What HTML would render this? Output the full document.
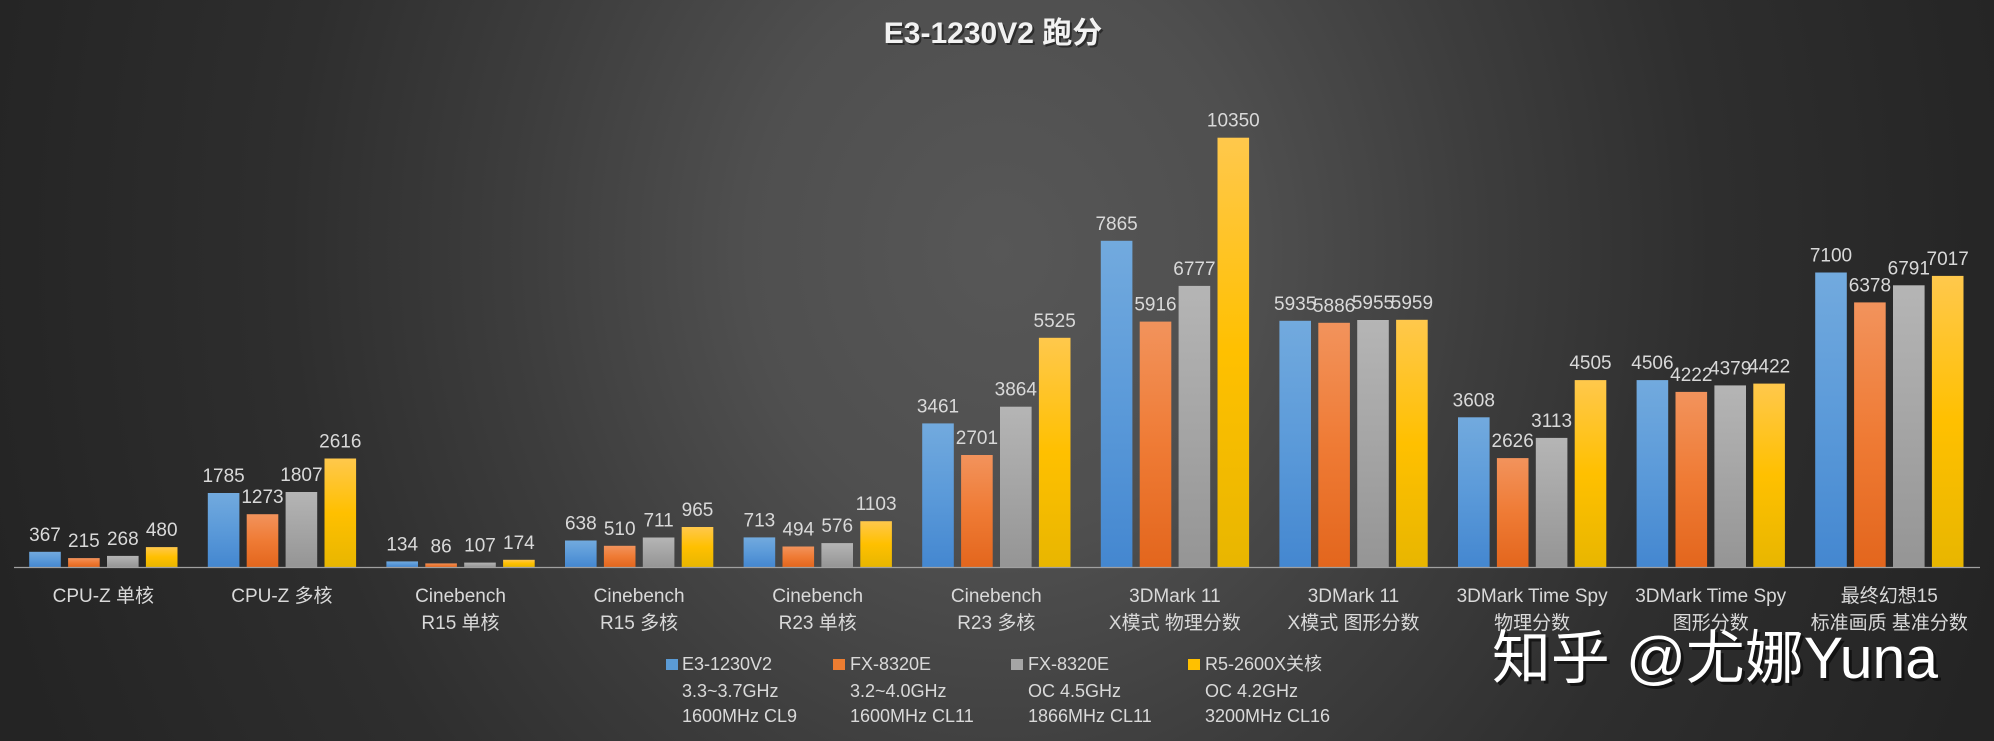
<!DOCTYPE html>
<html><head><meta charset="utf-8">
<style>
html,body{margin:0;padding:0;width:1994px;height:741px;overflow:hidden;}
body{background:radial-gradient(ellipse 1050px 1200px at 1000px 250px,#575757 0%,#4f4f4f 24%,#3d3d3d 46%,#2e2e2e 68%,#272727 90%,#242424 100%);}
svg{display:block;}
.v{font-family:"Liberation Sans","Noto Sans CJK SC",sans-serif;font-size:19px;fill:#d9d9d9;text-anchor:middle;}
.c{font-family:"Liberation Sans","Noto Sans CJK SC",sans-serif;font-size:19px;fill:#d9d9d9;text-anchor:middle;}
.l{font-family:"Liberation Sans","Noto Sans CJK SC",sans-serif;font-size:18px;fill:#d9d9d9;}
</style></head><body>
<svg width="1994" height="741" viewBox="0 0 1994 741" xmlns="http://www.w3.org/2000/svg">
<defs>
<linearGradient id="gb" x1="0" y1="0" x2="0" y2="1"><stop offset="0" stop-color="#72aade"/><stop offset="0.5" stop-color="#5b9ad9"/><stop offset="1" stop-color="#4487d0"/></linearGradient>
<linearGradient id="go" x1="0" y1="0" x2="0" y2="1"><stop offset="0" stop-color="#f2935c"/><stop offset="0.5" stop-color="#ef7b35"/><stop offset="1" stop-color="#e3661d"/></linearGradient>
<linearGradient id="gg" x1="0" y1="0" x2="0" y2="1"><stop offset="0" stop-color="#b5b5b5"/><stop offset="0.5" stop-color="#a5a5a5"/><stop offset="1" stop-color="#959595"/></linearGradient>
<linearGradient id="gy" x1="0" y1="0" x2="0" y2="1"><stop offset="0" stop-color="#ffc84c"/><stop offset="0.5" stop-color="#ffc000"/><stop offset="1" stop-color="#e8b600"/></linearGradient>
</defs>

<!-- Title -->
<text x="995" y="45" text-anchor="middle" font-family="Liberation Sans, Noto Sans CJK SC, sans-serif" font-weight="bold" font-size="30" fill="#000" fill-opacity="0.45">E3-1230V2 跑分</text>
<text x="993" y="43" text-anchor="middle" font-family="Liberation Sans, Noto Sans CJK SC, sans-serif" font-weight="bold" font-size="30" fill="#f2f2f2">E3-1230V2 跑分</text>

<!-- Bars -->
<g>
<!-- g0 -->
<rect x="29.2" y="551.8" width="31.6" height="15.2" fill="url(#gb)"/>
<rect x="68.1" y="558.1" width="31.6" height="8.9" fill="url(#go)"/>
<rect x="107.0" y="555.9" width="31.6" height="11.1" fill="url(#gg)"/>
<rect x="145.9" y="547.1" width="31.6" height="19.9" fill="url(#gy)"/>
<!-- g1 -->
<rect x="207.8" y="493.0" width="31.6" height="74.0" fill="url(#gb)"/>
<rect x="246.7" y="514.2" width="31.6" height="52.8" fill="url(#go)"/>
<rect x="285.6" y="492.0" width="31.6" height="75.0" fill="url(#gg)"/>
<rect x="324.5" y="458.5" width="31.6" height="108.5" fill="url(#gy)"/>
<!-- g2 -->
<rect x="386.4" y="561.4" width="31.6" height="5.6" fill="url(#gb)"/>
<rect x="425.3" y="563.4" width="31.6" height="3.6" fill="url(#go)"/>
<rect x="464.2" y="562.6" width="31.6" height="4.4" fill="url(#gg)"/>
<rect x="503.1" y="559.8" width="31.6" height="7.2" fill="url(#gy)"/>
<!-- g3 -->
<rect x="565.0" y="540.5" width="31.6" height="26.5" fill="url(#gb)"/>
<rect x="603.9" y="545.8" width="31.6" height="21.2" fill="url(#go)"/>
<rect x="642.8" y="537.5" width="31.6" height="29.5" fill="url(#gg)"/>
<rect x="681.7" y="527.0" width="31.6" height="40.0" fill="url(#gy)"/>
<!-- g4 -->
<rect x="743.6" y="537.4" width="31.6" height="29.6" fill="url(#gb)"/>
<rect x="782.5" y="546.5" width="31.6" height="20.5" fill="url(#go)"/>
<rect x="821.4" y="543.1" width="31.6" height="23.9" fill="url(#gg)"/>
<rect x="860.3" y="521.2" width="31.6" height="45.8" fill="url(#gy)"/>
<!-- g5 -->
<rect x="922.2" y="423.4" width="31.6" height="143.6" fill="url(#gb)"/>
<rect x="961.1" y="455.0" width="31.6" height="112.0" fill="url(#go)"/>
<rect x="1000.0" y="406.7" width="31.6" height="160.3" fill="url(#gg)"/>
<rect x="1038.9" y="337.8" width="31.6" height="229.2" fill="url(#gy)"/>
<!-- g6 -->
<rect x="1100.8" y="240.8" width="31.6" height="326.2" fill="url(#gb)"/>
<rect x="1139.7" y="321.6" width="31.6" height="245.4" fill="url(#go)"/>
<rect x="1178.6" y="285.9" width="31.6" height="281.1" fill="url(#gg)"/>
<rect x="1217.5" y="137.7" width="31.6" height="429.3" fill="url(#gy)"/>
<!-- g7 -->
<rect x="1279.4" y="320.8" width="31.6" height="246.2" fill="url(#gb)"/>
<rect x="1318.3" y="322.8" width="31.6" height="244.2" fill="url(#go)"/>
<rect x="1357.2" y="320.0" width="31.6" height="247.0" fill="url(#gg)"/>
<rect x="1396.1" y="319.8" width="31.6" height="247.2" fill="url(#gy)"/>
<!-- g8 -->
<rect x="1458.0" y="417.3" width="31.6" height="149.7" fill="url(#gb)"/>
<rect x="1496.9" y="458.1" width="31.6" height="108.9" fill="url(#go)"/>
<rect x="1535.8" y="437.9" width="31.6" height="129.1" fill="url(#gg)"/>
<rect x="1574.7" y="380.1" width="31.6" height="186.9" fill="url(#gy)"/>
<!-- g9 -->
<rect x="1636.6" y="380.1" width="31.6" height="186.9" fill="url(#gb)"/>
<rect x="1675.5" y="391.9" width="31.6" height="175.1" fill="url(#go)"/>
<rect x="1714.4" y="385.4" width="31.6" height="181.6" fill="url(#gg)"/>
<rect x="1753.3" y="383.6" width="31.6" height="183.4" fill="url(#gy)"/>
<!-- g10 -->
<rect x="1815.2" y="272.5" width="31.6" height="294.5" fill="url(#gb)"/>
<rect x="1854.1" y="302.4" width="31.6" height="264.6" fill="url(#go)"/>
<rect x="1893.0" y="285.3" width="31.6" height="281.7" fill="url(#gg)"/>
<rect x="1931.9" y="275.9" width="31.6" height="291.1" fill="url(#gy)"/>
</g>

<!-- Axis -->
<line x1="14" y1="567.5" x2="1980" y2="567.5" stroke="#a0a0a0" stroke-width="1.2"/>

<!-- Value labels -->
<g class="v">
<text x="45.0" y="540.8">367</text><text x="83.9" y="547.1">215</text><text x="122.8" y="544.9">268</text><text x="161.7" y="536.1">480</text>
<text x="223.6" y="482.0">1785</text><text x="262.5" y="503.2">1273</text><text x="301.4" y="481.0">1807</text><text x="340.3" y="447.5">2616</text>
<text x="402.2" y="550.4">134</text><text x="441.1" y="552.4">86</text><text x="480.0" y="551.6">107</text><text x="518.9" y="548.8">174</text>
<text x="580.8" y="529.5">638</text><text x="619.7" y="534.8">510</text><text x="658.6" y="526.5">711</text><text x="697.5" y="516.0">965</text>
<text x="759.4" y="526.4">713</text><text x="798.3" y="535.5">494</text><text x="837.2" y="532.1">576</text><text x="876.1" y="510.2">1103</text>
<text x="938.0" y="412.4">3461</text><text x="976.9" y="444.0">2701</text><text x="1015.8" y="395.7">3864</text><text x="1054.7" y="326.8">5525</text>
<text x="1116.6" y="229.8">7865</text><text x="1155.5" y="310.6">5916</text><text x="1194.4" y="274.9">6777</text><text x="1233.3" y="126.7">10350</text>
<text x="1295.2" y="309.8">5935</text><text x="1334.1" y="311.8">5886</text><text x="1373.0" y="309.0">5955</text><text x="1411.9" y="308.8">5959</text>
<text x="1473.8" y="406.3">3608</text><text x="1512.7" y="447.1">2626</text><text x="1551.6" y="426.9">3113</text><text x="1590.5" y="369.1">4505</text>
<text x="1652.4" y="369.1">4506</text><text x="1691.3" y="380.9">4222</text><text x="1730.2" y="374.4">4379</text><text x="1769.1" y="372.6">4422</text>
<text x="1831.0" y="261.5">7100</text><text x="1869.9" y="291.4">6378</text><text x="1908.8" y="274.3">6791</text><text x="1947.7" y="264.9">7017</text>
</g>

<!-- Category labels -->
<g class="c">
<text x="103.3" y="602">CPU-Z 单核</text>
<text x="281.9" y="602">CPU-Z 多核</text>
<text x="460.5" y="602">Cinebench</text><text x="460.5" y="629">R15 单核</text>
<text x="639.1" y="602">Cinebench</text><text x="639.1" y="629">R15 多核</text>
<text x="817.7" y="602">Cinebench</text><text x="817.7" y="629">R23 单核</text>
<text x="996.3" y="602">Cinebench</text><text x="996.3" y="629">R23 多核</text>
<text x="1174.9" y="602">3DMark 11</text><text x="1174.9" y="629">X模式 物理分数</text>
<text x="1353.5" y="602">3DMark 11</text><text x="1353.5" y="629">X模式 图形分数</text>
<text x="1532.1" y="602">3DMark Time Spy</text><text x="1532.1" y="629">物理分数</text>
<text x="1710.7" y="602">3DMark Time Spy</text><text x="1710.7" y="629">图形分数</text>
<text x="1889.3" y="602">最终幻想15</text><text x="1889.3" y="629">标准画质 基准分数</text>
</g>

<!-- Legend -->
<rect x="666" y="659" width="12" height="11" fill="#5b9bd5"/>
<rect x="833" y="659" width="12" height="11" fill="#ed7d31"/>
<rect x="1011" y="659" width="12" height="11" fill="#a5a5a5"/>
<rect x="1188" y="659" width="12" height="11" fill="#ffc000"/>
<g class="l">
<text x="682" y="670">E3-1230V2</text><text x="682" y="697">3.3~3.7GHz</text><text x="682" y="722">1600MHz CL9</text>
<text x="850" y="670">FX-8320E</text><text x="850" y="697">3.2~4.0GHz</text><text x="850" y="722">1600MHz CL11</text>
<text x="1028" y="670">FX-8320E</text><text x="1028" y="697">OC 4.5GHz</text><text x="1028" y="722">1866MHz CL11</text>
<text x="1205" y="670">R5-2600X关核</text><text x="1205" y="697">OC 4.2GHz</text><text x="1205" y="722">3200MHz CL16</text>
</g>

<!-- Watermark -->
<text x="1495" y="681" font-family="Liberation Sans, Noto Sans CJK SC, sans-serif" font-size="58" fill="#000" fill-opacity="0.55" textLength="446" lengthAdjust="spacingAndGlyphs">知乎 @尤娜Yuna</text>
<text x="1492" y="678" font-family="Liberation Sans, Noto Sans CJK SC, sans-serif" font-size="58" fill="#ffffff" textLength="446" lengthAdjust="spacingAndGlyphs">知乎 @尤娜Yuna</text>
</svg>
</body></html>
